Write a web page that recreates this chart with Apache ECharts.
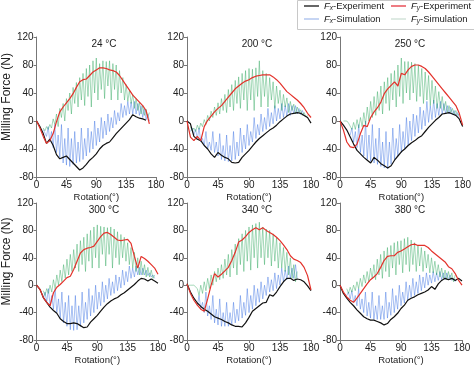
<!DOCTYPE html>
<html><head><meta charset="utf-8">
<script src="https://cdn.jsdelivr.net/npm/echarts@6/dist/echarts.min.js"></script>
<style>html,body{margin:0;padding:0;background:#fff}#c{width:474px;height:366px}</style>
</head><body><div id="c"></div>
<script>
// ---- tick labels / categories ----
const xTicks = [0, 45, 90, 135, 180];
const yTicks = [-80, -40, 0, 40, 80, 120];
const titles = ['24 °C', '200 °C', '250 °C', '300 °C', '340 °C', '380 °C'];
const seriesNames = ['Fx-Experiment', 'Fy-Experiment', 'Fx-Simulation', 'Fy-Simulation'];
const EXP_STEP = 5;   // experimental samples every 5°
const SIM_STEP = 5;   // simulation samples: envelope at start+5i, spike at start+2.5+5i

// ---- 24 °C ----
const fx24 = [0,-8,-18,-32,-26,-35,-48,-54,-52,-50,-55,-60,-65,-70,-67,-62,-56,-52,-47,-40,-35,-32,-30,-24,-18,-13,-8,-3,2,9,6,4,3,1];
const fy24 = [0,-10,-22,-32,-28,-18,-1,13,20,26,32,39,48,56,59,60,65,70,73,76,76,75,73,72,70,65,58,51,44,37,32,27,22,15,-4];
const gStart24 = 10;
const gHi24 = [-10,-8,-5,3,10,18,25,32,40,48,55,62,68,75,80,86,90,82,86,85,86,82,80,72,62,52,44,38,32,27,22,17,12];
const gLo24 = [-14,-12,-10,-5,-8,5,0,15,10,25,20,30,22,35,20,40,30,45,32,50,30,45,30,40,30,28,25,18,15,10,8,5];
const bStart24 = 10;
const bLo24 = [-12,-22,-30,-38,-45,-52,-60,-63,-65,-62,-60,-58,-55,-50,-45,-40,-35,-30,-25,-20,-15,-10,-5,0,5,8,10,10,10,8,5,2,0];
const bHi24 = [-10,-8,-15,-5,-20,-5,-25,-10,-25,-15,-30,-10,-25,-10,-15,0,-10,5,0,10,5,15,12,25,22,28,27,28,25,22,18,10];

// ---- 200 °C ----
const fx200 = [0,-4,-22,-26,-28,-35,-40,-47,-52,-45,-49,-52,-54,-59,-60,-59,-52,-47,-42,-36,-30,-25,-21,-17,-13,-10,-6,-1,3,7,10,11,12,11,8,5,-3];
const fy200 = [0,-23,-28,-22,-28,-8,1,7,13,18,22,28,34,40,46,50,54,57,59,62,64,65,66,66,66,63,59,54,48,42,38,34,30,25,19,11,5];
const gStart200 = 5;
const gHi200 = [-8,-10,-6,-3,2,8,14,20,26,32,38,45,52,58,63,68,72,75,74,76,86,72,68,62,56,50,44,38,33,28,24,20,16,12,8];
const gLo200 = [-14,-15,-12,-8,-5,0,5,8,10,15,12,20,15,25,18,30,15,30,15,35,20,35,20,30,18,25,15,20,12,15,10,12,8,6];
const bStart200 = 5;
const bLo200 = [-15,-20,-25,-30,-35,-40,-42,-45,-50,-55,-57,-58,-57,-55,-50,-45,-40,-35,-30,-25,-20,-15,-12,-8,-4,0,3,5,7,8,10,10,9,8,5];
const bHi200 = [-10,-12,-10,-25,-15,-30,-15,-30,-18,-35,-20,-35,-15,-30,-10,-20,-5,-15,5,-5,10,5,18,12,22,18,25,22,25,22,22,18,15,10];

// ---- 250 °C ----
const fx250 = [0,-6,-13,-23,-33,-42,-47,-52,-56,-60,-52,-56,-61,-64,-67,-64,-56,-50,-44,-40,-35,-31,-28,-24,-21,-15,-9,-4,1,5,10,11,12,10,8,3,-8];
const fy250 = [0,-13,-30,-37,-38,-33,-18,-6,-8,5,13,19,27,39,46,51,56,50,68,66,73,78,80,80,78,75,70,64,58,52,46,40,34,28,22,11,-6];
const gStart250 = 5;
const gHi250 = [0,0,-5,-2,2,5,12,20,28,35,42,50,56,62,68,72,80,90,85,85,84,82,80,75,70,65,58,50,42,35,28,22,18,15,10];
const gLo250 = [0,-3,-12,-12,-10,-8,-5,0,5,8,15,10,25,15,30,20,35,25,40,30,40,28,35,25,30,22,25,18,18,15,12,12,10,8];
const bStart250 = 15;
const bLo250 = [-20,-30,-38,-45,-50,-55,-58,-60,-62,-65,-67,-68,-62,-55,-50,-45,-40,-35,-28,-22,-17,-12,-7,-2,2,5,8,10,10,10,9,8,5];
const bHi250 = [-10,-15,-5,-20,0,-20,-5,-25,-10,-30,-15,-30,-10,-25,-5,-15,5,0,10,8,20,15,28,22,30,25,28,25,22,20,15,12];

// ---- 300 °C ----
const fx300 = [0,-6,-18,-25,-32,-37,-41,-49,-53,-56,-56,-55,-56,-59,-62,-61,-54,-49,-44,-38,-32,-27,-23,-20,-18,-14,-11,-7,-3,1,6,10,9,6,9,6,3];
const fy300 = [0,-6,-18,-25,-30,-11,-3,1,6,11,13,23,35,47,52,54,55,57,64,71,76,77,74,70,66,65,66,67,61,42,25,42,39,35,30,25,16];
const gStart300 = 10;
const gHi300 = [-8,-5,0,8,15,22,30,38,45,52,60,65,70,75,80,85,88,86,85,84,85,82,78,74,70,62,55,48,40,35,30,26,22,15];
const gLo300 = [-15,-12,-10,-5,0,5,10,15,20,25,20,30,20,35,25,40,25,45,28,45,25,40,30,40,35,30,25,20,15,15,12,12,10];
const bStart300 = 10;
const bLo300 = [-20,-25,-30,-35,-40,-48,-55,-60,-65,-66,-65,-60,-55,-50,-45,-40,-35,-30,-25,-20,-15,-12,-8,-4,0,5,10,12,15,15,15,14,12,10];
const bHi300 = [-10,-5,-15,-5,-20,-10,-25,-15,-30,-15,-30,-10,-25,-5,-15,0,-10,5,0,10,5,15,12,22,20,28,25,28,26,25,22,18,15];

// ---- 340 °C ----
const fx340 = [2,-10,-19,-26,-31,-35,-38,-42,-46,-48,-50,-53,-55,-58,-60,-60,-61,-55,-47,-38,-34,-30,-26,-25,-14,-16,-10,-2,5,10,10,7,9,8,5,-1,-8];
const fy340 = [2,-12,-22,-29,-35,-38,-20,0,17,12,16,21,26,36,48,63,66,71,77,81,84,81,84,80,77,74,70,65,59,52,43,38,36,33,26,14,-7];
const gStart340 = 0;
const gHi340 = [0,0,0,-5,0,5,10,15,20,25,30,38,45,52,60,68,75,80,85,88,90,92,85,82,80,75,70,62,55,48,40,30,20];
const gLo340 = [0,0,-2,-15,-12,-8,-5,0,5,8,10,15,12,25,15,30,20,35,22,40,25,40,30,40,28,35,25,25,20,15,10,5];
const bStart340 = 15;
const bLo340 = [-30,-35,-40,-45,-50,-55,-58,-60,-60,-60,-58,-55,-52,-48,-44,-40,-35,-30,-25,-20,-15,-10,-8,-5,0,5,8,10,10,10];
const bHi340 = [-15,-25,-10,-30,-15,-35,-20,-40,-25,-40,-25,-35,-15,-25,-5,-15,0,-5,5,0,12,8,18,15,25,22,28,25,30];

// ---- 380 °C ----
const fx380 = [0,-12,-19,-25,-30,-36,-41,-46,-49,-51,-51,-53,-55,-58,-56,-50,-46,-41,-34,-29,-22,-19,-17,-14,-12,-10,-7,-2,-6,2,7,10,8,10,7,10,6];
const fy380 = [0,-10,-17,-22,-25,-19,-12,-5,2,8,12,17,26,36,42,43,43,48,50,53,56,59,60,58,58,58,55,50,46,42,38,34,27,24,17,7,0];
const gStart380 = 10;
const gHi380 = [-5,-3,0,5,10,15,20,25,30,38,45,50,55,58,62,64,65,68,70,66,62,58,55,50,45,40,35,30,25,22,20,18,15];
const gLo380 = [-12,-10,-8,-5,-2,3,5,10,8,15,10,20,12,25,15,30,18,30,20,30,20,28,20,25,18,18,15,12,10,8,8,5];
const bStart380 = 10;
const bLo380 = [-15,-20,-25,-30,-35,-40,-45,-48,-50,-50,-50,-50,-48,-44,-40,-35,-30,-26,-22,-18,-15,-12,-8,-4,0,3,5,7,8,8,8,7,5];
const bHi380 = [-10,-8,-15,-5,-20,-10,-25,-10,-30,-15,-30,-10,-25,-5,-15,0,-10,5,0,10,5,15,12,18,15,20,18,20,18,18,15,10];

const panels = [
  {fx: fx24,  fy: fy24,  gS: gStart24,  gHi: gHi24,  gLo: gLo24,  bS: bStart24,  bLo: bLo24,  bHi: bHi24},
  {fx: fx200, fy: fy200, gS: gStart200, gHi: gHi200, gLo: gLo200, bS: bStart200, bLo: bLo200, bHi: bHi200},
  {fx: fx250, fy: fy250, gS: gStart250, gHi: gHi250, gLo: gLo250, bS: bStart250, bLo: bLo250, bHi: bHi250},
  {fx: fx300, fy: fy300, gS: gStart300, gHi: gHi300, gLo: gLo300, bS: bStart300, bLo: bLo300, bHi: bHi300},
  {fx: fx340, fy: fy340, gS: gStart340, gHi: gHi340, gLo: gLo340, bS: bStart340, bLo: bLo340, bHi: bHi340},
  {fx: fx380, fy: fy380, gS: gStart380, gHi: gHi380, gLo: gLo380, bS: bStart380, bLo: bLo380, bHi: bHi380}
];

function expPairs(arr) { return arr.map((v, i) => [i * EXP_STEP, v]); }
function simPairs(a, b, start) {
  const out = [];
  for (let i = 0; i < a.length; i++) {
    out.push([start + i * SIM_STEP, a[i]]);
    if (i < b.length) out.push([start + i * SIM_STEP + SIM_STEP / 2, b[i]]);
  }
  return out;
}

// ---- layout ----
const FONT = 'Arial, "Liberation Sans", Helvetica, sans-serif';
const gridPos = [
  {left: 34, top: 37, width: 122, height: 140},
  {left: 187, top: 37, width: 124, height: 140},
  {left: 340, top: 37, width: 124, height: 140},
  {left: 34, top: 203, width: 124, height: 139},
  {left: 187, top: 203, width: 124, height: 139},
  {left: 340, top: 203, width: 122, height: 139}
];
const COL = {fx: '#111111', fy: '#e3322b', bs: 'rgba(40,100,225,0.5)', gs: 'rgba(30,160,80,0.5)'};

const grid = [], xAxis = [], yAxis = [], series = [], title = [];
gridPos.forEach((g, i) => {
  grid.push(Object.assign({containLabel: false}, g));
  xAxis.push({
    type: 'value', gridIndex: i, min: xTicks[0], max: xTicks[xTicks.length - 1],
    interval: xTicks[1] - xTicks[0],
    axisLine: {show: true, onZero: false, lineStyle: {color: '#777', width: 1}},
    axisTick: {show: true, length: 3, lineStyle: {color: '#777'}},
    splitLine: {show: false},
    axisLabel: {fontSize: 10, color: '#222', margin: 3, fontFamily: FONT},
    name: 'Rotation(°)', nameLocation: 'middle', nameGap: 15,
    nameTextStyle: {fontSize: 9.5, color: '#222', fontFamily: FONT}
  });
  yAxis.push({
    type: 'value', gridIndex: i, min: yTicks[0], max: yTicks[yTicks.length - 1],
    interval: yTicks[1] - yTicks[0],
    axisLine: {show: true, onZero: false, lineStyle: {color: '#777', width: 1}},
    axisTick: {show: true, length: 3, lineStyle: {color: '#777'}},
    splitLine: {show: false},
    axisLabel: {fontSize: 10, color: '#222', margin: 3, fontFamily: FONT},
    name: (i % 3 === 0) ? 'Milling Force (N)' : '', nameLocation: 'middle', nameGap: 21,
    nameTextStyle: {fontSize: 12, color: '#222', fontFamily: FONT, padding: [0, 0, 0, 20]}
  });
  title.push({
    text: titles[i], left: g.left + 70, top: g.top + 2, textAlign: 'center',
    textStyle: {fontSize: 10, fontWeight: 'normal', color: '#222', fontFamily: FONT}, padding: 0
  });
  const p = panels[i];
  series.push({
    type: 'line', name: seriesNames[2], xAxisIndex: i, yAxisIndex: i, data: simPairs(p.bLo, p.bHi, p.bS),
    symbol: 'none', silent: true, z: 1, itemStyle: {color: '#b3c7ef'}, lineStyle: {width: 0.8, color: COL.bs}
  });
  series.push({
    type: 'line', name: seriesNames[3], xAxisIndex: i, yAxisIndex: i, data: simPairs(p.gHi, p.gLo, p.gS),
    symbol: 'none', silent: true, z: 2, itemStyle: {color: '#cfe3d6'}, lineStyle: {width: 0.8, color: COL.gs}
  });
  series.push({
    type: 'line', name: seriesNames[0], xAxisIndex: i, yAxisIndex: i, data: expPairs(p.fx),
    symbol: 'none', silent: true, z: 3, itemStyle: {color: COL.fx}, lineStyle: {width: 1.2, color: COL.fx}
  });
  series.push({
    type: 'line', name: seriesNames[1], xAxisIndex: i, yAxisIndex: i, data: expPairs(p.fy),
    symbol: 'none', silent: true, z: 4, itemStyle: {color: COL.fy}, lineStyle: {width: 1.2, color: COL.fy}
  });
});

const legendRich = {
  f: {fontSize: 9.5, fontStyle: 'italic', color: '#222', fontFamily: FONT},
  s: {fontSize: 6.5, fontStyle: 'italic', color: '#222', fontFamily: FONT, padding: [5, 0, 0, 0]},
  t: {fontSize: 9.5, color: '#222', fontFamily: FONT}
};
function legendFmt(name) { return '{f|F}{s|' + name.charAt(1) + '}{t|' + name.slice(2) + '}'; }
const legendPos = [[304, 1], [391, 1], [304, 14], [391, 14]];
const legendIcon = ['#333333', '#e8505a', '#b3c7ef', '#d3e3da'];
const legend = seriesNames.map((n, k) => ({
  data: [{name: n, itemStyle: {color: legendIcon[k]}}],
  left: legendPos[k][0], top: legendPos[k][1], padding: 0, itemGap: 0,
  icon: 'rect', itemWidth: 15, itemHeight: 1.5, itemTextGap: 3, selectedMode: false,
  formatter: legendFmt, textStyle: {fontSize: 9.5, color: '#222', rich: legendRich}
}));

const chart = echarts.init(document.getElementById('c'), null, {renderer: 'canvas'});
chart.setOption({
  animation: false,
  backgroundColor: '#ffffff',
  title, grid, xAxis, yAxis, series, legend,
  graphic: [{
    type: 'rect', left: 297, top: 0, z: 0,
    shape: {width: 180, height: 29},
    style: {fill: '#ffffff', stroke: '#c8c8c8', lineWidth: 1}
  }]
});
</script>
</body></html>
